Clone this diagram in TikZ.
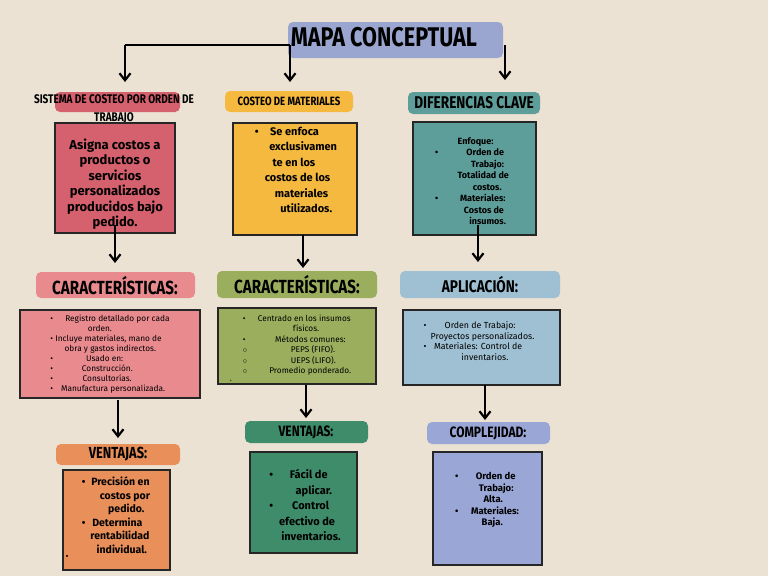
\documentclass[tikz,border=0pt]{standalone}
\usepackage{fontspec}
\setmainfont{Fira Sans}
\newfontfamily\headf{Fira Sans}[FakeStretch=0.8]
\usetikzlibrary{arrows.meta}
\definecolor{bg}{HTML}{ECE2D4}
\definecolor{cTitle}{HTML}{9AA6CF}
\definecolor{cRed}{HTML}{D5606E}
\definecolor{cPink}{HTML}{E98A8F}
\definecolor{cOr}{HTML}{F5B93F}
\definecolor{cTeal}{HTML}{5E9E9A}
\definecolor{cGreen}{HTML}{9BAE5E}
\definecolor{cOr2}{HTML}{E88F5A}
\definecolor{cGr2}{HTML}{3F8C6B}
\definecolor{cBlue}{HTML}{9FC0D3}
\definecolor{cLav}{HTML}{9AA6D6}
\tikzset{
 hdr/.style={fill=#1,rounded corners=5pt,draw=none},
 hdrtext/.style={font=\headf\bfseries,align=center,inner sep=0},
 bx/.style={fill=#1,draw=black!85,line width=1.6pt},
 bxtext/.style={align=center,inner sep=0,font=\bfseries},
 arr/.style={-{Straight Barb[length=7pt,width=11pt]},line width=2.2pt}
}
\newcommand{\bl}{\textbullet\ }
\newcommand{\ci}{$\circ$\ }
\begin{document}
\begin{tikzpicture}[x=1pt,y=-1pt]
\fill[bg] (0,0) rectangle (768,576);
\useasboundingbox (0,0) rectangle (768,576);
% title
\draw[hdr=cTitle] (288,22) rectangle (503,58);
\node[hdrtext,font=\headf\bfseries\fontsize{27}{28}\selectfont] (title) at (384,37) {MAPA CONCEPTUAL};
\coordinate (tl) at (290,45);
\coordinate (h1) at (125,45);
\coordinate (a1) at (125,82);
\coordinate (a2) at (290,82);
\coordinate (r0) at (505,45);
\coordinate (a3) at (505,80);
\draw[line width=2.2pt] (tl) -- (h1);
\draw[arr] (h1) -- (a1);
\draw[arr] (tl) -- (a2);
\draw[arr] (r0) -- (a3);
% column 1
\draw[hdr=cRed] (55,92) rectangle (180,112);
\node[hdrtext,font=\headf\bfseries\fontsize{12.5}{18}\selectfont] (h1t) at (114,109) {SISTEMA DE COSTEO POR ORDEN DE\\TRABAJO};
\draw[bx=cRed] (55,123) rectangle (175,233);
\node[bxtext,font=\bfseries\fontsize{13}{15.5}\selectfont] (b1) at (115,184) {Asigna costos a\\productos o\\servicios\\personalizados\\producidos bajo\\pedido.};
\coordinate (b1s) at (115,225);
\coordinate (c1n) at (115,263);
\draw[arr] (b1s) -- (c1n);
\draw[hdr=cPink] (36,272) rectangle (195,298);
\node[hdrtext,font=\headf\bfseries\fontsize{19}{20}\selectfont] (c1) at (115,286) {CARACTERÍSTICAS:};
\draw[bx=cPink] (20,310) rectangle (200,398);
\node[bxtext,font=\fontsize{8.3}{10}\selectfont,align=left] (l1) at (110,354) {%
\bl\hspace{1.2em}Registro detallado por cada\\
\hspace*{4.5em}orden.\\
\bl Incluye materiales, mano de\\
\hspace*{1.7em}obra y gastos indirectos.\\
\bl\hspace{3.7em}Usado en:\\
\bl\hspace{3.2em}Construcción.\\
\bl\hspace{3.3em}Consultorías.\\
\bl\hspace{0.7em}Manufactura personalizada.};
\coordinate (l1s) at (118,400);
\coordinate (v1n) at (118,438);
\draw[arr] (l1s) -- (v1n);
\draw[hdr=cOr2] (56,444) rectangle (180,465);
\node[hdrtext,font=\headf\bfseries\fontsize{16}{18}\selectfont] (v1) at (118,454) {VENTAJAS:};
\draw[bx=cOr2] (63,470) rectangle (170,570);
\node[bxtext,font=\bfseries\fontsize{10.5}{13.5}\selectfont,align=left] (o1) at (116,515) {%
\bl\hspace{0.3em}Precisión en\\
\hspace*{1.7em}costos por\\
\hspace*{2.5em}pedido.\\
\bl\hspace{0.4em}Determina\\
\hspace*{0.8em}rentabilidad\\
\hspace*{1.4em}individual.};
\node[inner sep=0,font=\small] (o1b) at (67,557) {\textbullet};
% column 2
\draw[hdr=cOr] (225,91) rectangle (353,112);
\node[hdrtext,font=\headf\bfseries\fontsize{12}{14}\selectfont] (h2) at (289,101) {COSTEO DE MATERIALES};
\draw[bx=cOr] (233,123) rectangle (357,235);
\node[bxtext,font=\bfseries\fontsize{11}{15.5}\selectfont,align=left] (b2) at (296,170) {%
\bl\hspace{0.8em}Se enfoca\\
\hspace*{1.3em}exclusivamen\\
\hspace*{1.6em}te en los\\
\hspace*{0.9em}costos de los\\
\hspace*{1.8em}materiales\\
\hspace*{2.3em}utilizados.};
\coordinate (b2s) at (303,235);
\coordinate (c2n) at (303,268);
\draw[arr] (b2s) -- (c2n);
\draw[hdr=cGreen] (217,271) rectangle (377,298);
\node[hdrtext,font=\headf\bfseries\fontsize{19}{20}\selectfont] (c2) at (297,285) {CARACTERÍSTICAS:};
\draw[bx=cGreen] (218,308) rectangle (376,384);
\node[bxtext,font=\fontsize{8.3}{10.5}\selectfont,align=left] (l2) at (297,345) {%
\bl\hspace{1.2em}Centrado en los insumos\\
\hspace*{6em}físicos.\\
\bl\hspace{3.3em}Métodos comunes:\\
\ci\hspace{5em}PEPS (FIFO).\\
\ci\hspace{5em}UEPS (LIFO).\\
\ci\hspace{2.4em}Promedio ponderado.};
\node[inner sep=0,font=\tiny] (l2b) at (231,381) {\textbullet};
\coordinate (l2s) at (306,385);
\coordinate (v2n) at (306,418);
\draw[arr] (l2s) -- (v2n);
\draw[hdr=cGr2] (245,421) rectangle (368,443);
\node[hdrtext,font=\headf\bfseries\fontsize{15}{17}\selectfont] (v2) at (306,432) {VENTAJAS:};
\draw[bx=cGr2] (250,452) rectangle (357,553);
\node[bxtext,font=\bfseries\fontsize{11}{15.5}\selectfont,align=left] (g2) at (305,505) {%
\bl\hspace{1.3em}Fácil de\\
\hspace*{2.4em}aplicar.\\
\bl\hspace{1.5em}Control\\
\hspace*{0.9em}efectivo de\\
\hspace*{1.1em}inventarios.};
% column 3
\draw[hdr=cTeal] (408,92) rectangle (540,114);
\node[hdrtext,font=\headf\bfseries\fontsize{17}{19}\selectfont] (h3) at (474,103) {DIFERENCIAS CLAVE};
\draw[bx=cTeal] (413,122) rectangle (536,235);
\node[bxtext,font=\bfseries\fontsize{9}{11.5}\selectfont,align=left] (b3) at (472,181) {%
\hspace*{2.5em}Enfoque:\\
\bl\hspace{2.9em}Orden de\\
\hspace*{4em}Trabajo:\\
\hspace*{2.5em}Totalidad de\\
\hspace*{4.2em}costos.\\
\bl\hspace{2.2em}Materiales:\\
\hspace*{3.2em}Costos de\\
\hspace*{3.8em}insumos.};
\coordinate (b3s) at (478,225);
\coordinate (c3n) at (478,262);
\draw[arr] (b3s) -- (c3n);
\draw[hdr=cBlue] (400,271) rectangle (560,298);
\node[hdrtext,font=\headf\bfseries\fontsize{17}{19}\selectfont] (c3) at (480,285) {APLICACIÓN:};
\draw[bx=cBlue] (403,310) rectangle (560,385);
\node[bxtext,font=\fontsize{8.8}{10.5}\selectfont,align=left] (l3) at (479,341) {%
\bl\hspace{1.8em}Orden de Trabajo:\\
\hspace*{0.8em}Proyectos personalizados.\\
\bl\hspace{0.6em}Materiales: Control de\\
\hspace*{4.3em}inventarios.};
\coordinate (l3s) at (485,385);
\coordinate (x3n) at (485,420);
\draw[arr] (l3s) -- (x3n);
\draw[hdr=cLav] (427,422) rectangle (550,444);
\node[hdrtext,font=\headf\bfseries\fontsize{15}{17}\selectfont] (x3) at (488,433) {COMPLEJIDAD:};
\draw[bx=cLav] (433,452) rectangle (542,565);
\node[bxtext,font=\bfseries\fontsize{9.5}{11.5}\selectfont,align=left] (p3) at (487,500) {%
\bl\hspace{1.6em}Orden de\\
\hspace*{2.5em}Trabajo:\\
\hspace*{3em}Alta.\\
\bl\hspace{1.1em}Materiales:\\
\hspace*{2.8em}Baja.};
\end{tikzpicture}
\end{document}
